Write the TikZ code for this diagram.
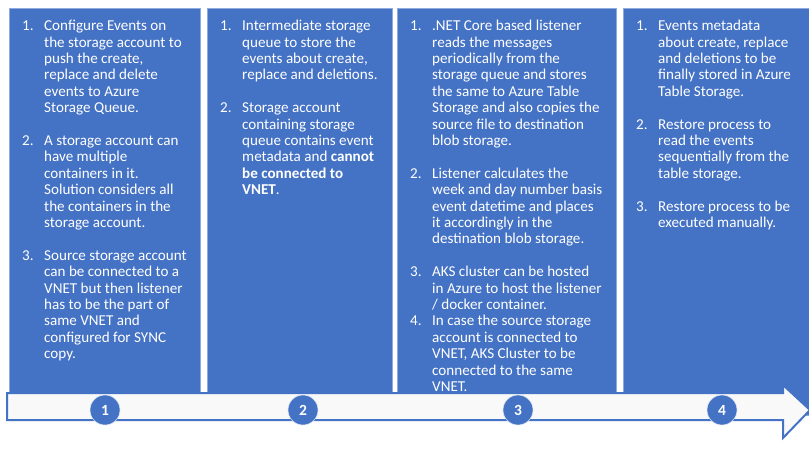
\documentclass[tikz,border=0pt]{standalone}
\usepackage{fontspec}
\setmainfont{Carlito}
\usetikzlibrary{calc}
\definecolor{panelblue}{HTML}{4472C4}
\definecolor{arrowwhite}{HTML}{F9F9F9}
\newcommand{\steplist}[1] {
  {\fontsize{15.1}{16.4}\selectfont\begin{tabular}{@{}p{22pt}@{}l@{}}#1\end{tabular}}}

\begin{document}
\begin{tikzpicture}[x=1pt,y=-1pt,
	panel/.style={fill=panelblue,draw=panelblue!60!white,line width=0.4pt},
	steptext/.style={anchor=north west,inner sep=0pt,text=white},
	stepnum/.style={circle,fill=panelblue,draw=white!80!panelblue,line width=0.6pt,minimum size=30pt,inner sep=0pt,text=white,font=\bfseries\fontsize{15.5}{15.5}\selectfont}]
					\useasboundingbox (0,0) rectangle (809,455);
					%PANELS
					\fill[panel] (9,8) rectangle (200,415);
					\fill[panel] (207,8) rectangle (392,415);
					\fill[panel] (397,8) rectangle (616,415);
					\fill[panel] (623,8) rectangle (812,415);
					%TEXTS
					\node[steptext] (t1) at (22,19.1) {\steplist{
						1. & Configure Events on\\ & the storage account to\\ & push the create,\\ & replace and delete\\ & events to Azure\\ & Storage Queue.\\ & \\
						2. & A storage account can\\ & have multiple\\ & containers in it.\\ & Solution considers all\\ & the containers in the\\ & storage account.\\ & \\
						3. & Source storage account\\ & can be connected to a\\ & VNET but then listener\\ & has to be the part of\\ & same VNET and\\ & configured for SYNC\\ & copy.}};
					\node[steptext] (t2) at (220,19.1) {\steplist{
						1. & Intermediate storage\\ & queue to store the\\ & events about create,\\ & replace and deletions.\\ & \\
						2. & Storage account\\ & containing storage\\ & queue contains event\\ & metadata and \textbf{cannot}\\ & \textbf{be connected to}\\ & \textbf{VNET}.}};
					\node[steptext] (t3) at (410,19.1) {\steplist{
						1. & .NET Core based listener\\ & reads the messages\\ & periodically from the\\ & storage queue and stores\\ & the same to Azure Table\\ & Storage and also copies the\\ & source file to destination\\ & blob storage.\\ & \\
						2. & Listener calculates the\\ & week and day number basis\\ & event datetime and places\\ & it accordingly in the\\ & destination blob storage.\\ & \\
						3. & AKS cluster can be hosted\\ & in Azure to host the listener\\ & / docker container.\\
						4. & In case the source storage\\ & account is connected to\\ & VNET, AKS Cluster to be\\ & connected to the same\\ & VNET.}};
					\node[steptext] (t4) at (636,19.1) {\steplist{
						1. & Events metadata\\ & about create, replace\\ & and deletions to be\\ & finally stored in Azure\\ & Table Storage.\\ & \\
						2. & Restore process to\\ & read the events\\ & sequentially from the\\ & table storage.\\ & \\
						3. & Restore process to be\\ & executed manually.}};
					%ARROW
					\draw[fill=arrowwhite,draw=panelblue,line width=2pt] (7,393) -- (783,393) -- (783,385) -- (810,410) -- (783,438) -- (783,420) -- (7,420) -- cycle;
					%STEPS
					\node[stepnum] (n1) at (105,410) {1};
					\node[stepnum] (n2) at (303,410) {2};
					\node[stepnum] (n3) at (518,410) {3};
					\node[stepnum] (n4) at (722,410) {4};
	  \end{tikzpicture}
\end{document}
